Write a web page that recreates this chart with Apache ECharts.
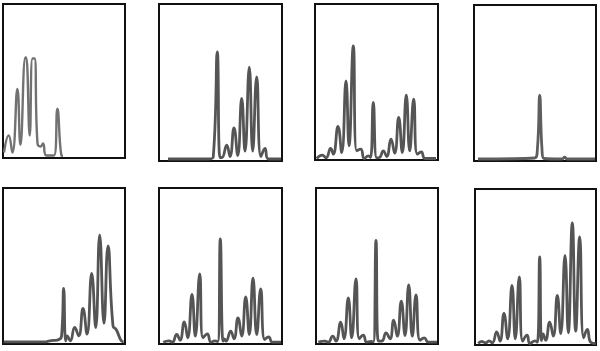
<!DOCTYPE html>
<html>
<head>
<meta charset="utf-8">
<script src="https://cdn.jsdelivr.net/npm/echarts@6/dist/echarts.min.js"></script>
<style>html,body{margin:0;padding:0;background:#fff}#c{width:600px;height:351px}</style>
</head>
<body>
<div id="c"></div>
<script>
// Panel traces: x = position along run, y = signal height
const p1x = [1, 5.7, 9.4, 14.4, 17.4, 22.4, 23.2, 26.7, 29.5, 31.5, 34.5, 37.5, 40, 43.4, 51, 54.4, 58.4, 60];
const p1y = [4, 21, 4, 67.6, 11.7, 99, 99, 21, 98, 98, 13, 10, 13, 1, 1, 47.7, 1, 0.5];

const p2x = [9, 50, 54.3, 58.3, 61, 63, 67.7, 71, 75, 78.7, 82.7, 86, 90.3, 93.7, 97.7, 102, 106, 109.3, 122];
const p2y = [0.5, 0.5, 3, 107.7, 2, 2, 14.3, 3, 31.7, 4, 61, 8.3, 92.3, 8.3, 82.7, 3, 11, 0.5, 0.5];

const p3x = [1.7, 7.3, 11, 15.7, 18.3, 23, 26.7, 31, 34, 38.3, 41.7, 45.7, 49.3, 53.3, 55.5, 58.3, 61.7, 64.5, 68.3, 71.7, 76, 79.7, 83.7, 87.3, 91.3, 94.7, 98.7, 102.3, 106.3, 110, 121];
const p3y = [0, 3.3, 0.7, 10, 4.3, 32, 6, 77.7, 12.7, 112.7, 7.7, 9.3, 0, 2.7, 1, 56, 0.7, 1, 7.7, 2, 19.3, 5.3, 41, 6, 63.3, 7.7, 59.3, 4.3, 6.7, 0, 0];

const p4x = [4, 60.7, 63.5, 65.7, 68, 70, 88, 90.7, 93, 121];
const p4y = [0.5, 1.5, 12, 64, 10, 1, 0.5, 2.3, 0.5, 0.5];

const p5x = [0.7, 43, 46.7, 55, 58.5, 60.7, 62.7, 64.3, 67.3, 71.7, 75.7, 80, 84, 88.7, 92.7, 96.7, 101, 105, 110, 113.3, 118.3, 120.7];
const p5y = [0.7, 0.7, 1.7, 2.7, 6, 54, 1.7, 6.7, 1.7, 15, 6.7, 34, 8.3, 69, 15, 107.7, 19.3, 96.7, 16.7, 12.7, 1.7, 0.7];

const p6x = [4.3, 10, 13.3, 17.7, 21, 25.3, 28.7, 33, 36.3, 40.7, 44, 48.3, 52, 56, 58.7, 61.3, 64, 65.3, 67, 71.7, 75, 79, 82.7, 86.7, 90.3, 94, 97.7, 101.7, 105.7, 109.7, 113.3, 122];
const p6y = [0.3, 1.7, 0.3, 8, 2.3, 20.7, 4.7, 48, 6.3, 68.7, 4.7, 8.7, 0.3, 1.7, 1, 103.7, 1.5, 3.7, 1.3, 11.3, 3.7, 24.7, 6.3, 45.7, 8, 64.3, 8, 53.7, 3, 5.7, 0.3, 0.3];

const p7x = [2.3, 9, 12.3, 16.7, 20, 24.7, 28, 32.3, 35.7, 40, 43.3, 47.3, 50.7, 55, 57.3, 60, 62.3, 66, 70, 74, 77.7, 81.3, 85.3, 89, 92.7, 96.3, 100, 104, 108.3, 112.3, 121];
const p7y = [0.3, 1.3, 0.3, 6.3, 1.3, 20.3, 3.7, 44.7, 4.7, 63.7, 3.7, 7.3, 0.3, 1, 0.7, 102, 1.3, 1.5, 9.7, 3.7, 22.3, 6.3, 41.3, 7, 57.7, 6.3, 47.7, 2.3, 4.7, 0.3, 0.3];

const p8x = [3.3, 6.7, 10.7, 14, 17.3, 21.7, 25, 29, 32.7, 37, 40.3, 44.3, 47.7, 52, 55, 60, 62.3, 64.7, 66.5, 68, 70.7, 74.7, 78.3, 82.3, 85.7, 90, 93.3, 97.3, 100.7, 104.7, 108.7, 112.3, 115.7, 120.7];
const p8y = [0, 2, 0.7, 2.7, 0.7, 11.7, 2.3, 30, 4.7, 58, 4.7, 66.7, 2.3, 8.3, 0, 2.7, 1.3, 86.7, 3, 9.5, 3.3, 21.3, 7.3, 48, 10, 88, 10.7, 120.7, 12.3, 106.7, 5.7, 14, 1.3, 0];

const traces = [[p1x, p1y], [p2x, p2y], [p3x, p3y], [p4x, p4y], [p5x, p5y], [p6x, p6y], [p7x, p7y], [p8x, p8y]];

// layout of the 8 boxed panels (pixels)
const boxes = [
  {left: 3, top: 4, width: 122, height: 154},
  {left: 159, top: 4, width: 123, height: 157},
  {left: 315, top: 4, width: 123, height: 156},
  {left: 474, top: 5, width: 122, height: 156},
  {left: 3, top: 188, width: 122, height: 156},
  {left: 159, top: 188, width: 123, height: 156},
  {left: 316, top: 188, width: 122, height: 156},
  {left: 475, top: 189, width: 121, height: 156}
];
const colors = ['#727272', '#555555', '#555555', '#5e5e5e', '#555555', '#555555', '#555555', '#555555'];

const grid = [], xAxis = [], yAxis = [], series = [];
boxes.forEach((b, i) => {
  grid.push(Object.assign({show: true, borderColor: '#111', borderWidth: 2, backgroundColor: '#fff', containLabel: false}, b));
  xAxis.push({type: 'value', gridIndex: i, min: 0, max: b.width, show: false});
  yAxis.push({type: 'value', gridIndex: i, min: -1.5, max: b.height - 1.5, show: false});
  const [xs, ys] = traces[i];
  series.push({
    type: 'line', xAxisIndex: i, yAxisIndex: i,
    data: xs.map((x, k) => [x, ys[k]]),
    smooth: 0.5, symbol: 'none', clip: true,
    lineStyle: {color: colors[i], width: i === 0 ? 2.4 : 2.8}
  });
});

const chart = echarts.init(document.getElementById('c'), null, {renderer: 'canvas'});
chart.setOption({animation: false, backgroundColor: '#fff', grid, xAxis, yAxis, series});
</script>
</body>
</html>
